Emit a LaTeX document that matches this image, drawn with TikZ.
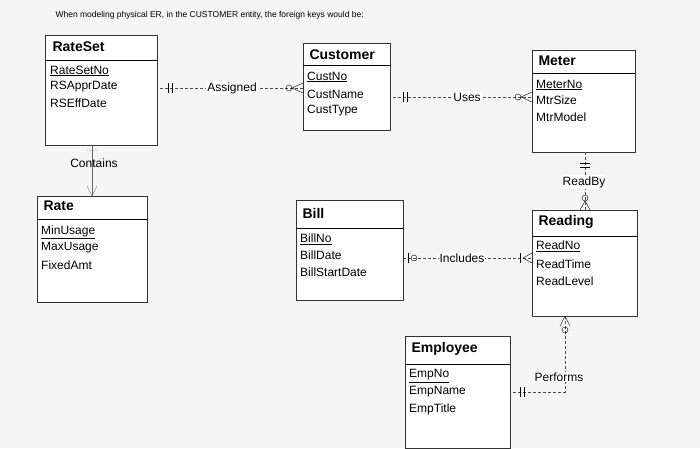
\documentclass[tikz,border=0pt]{standalone}
\usepackage{fontspec}
\setmainfont{Liberation Sans}
\begin{document}
\begin{tikzpicture}[x=1pt,y=-1pt,
 ent/.style={draw=black!80,line width=0.8pt,fill=white},
 hd/.style={anchor=west,font=\bfseries\fontsize{14}{14}\selectfont},
 attr/.style={anchor=west,font=\fontsize{12}{12}\selectfont,inner sep=1pt},
 lbl/.style={font=\fontsize{12}{12}\selectfont,fill=white,inner sep=1pt},
 rel/.style={densely dashed,black!70,line width=0.7pt}]
\useasboundingbox (0,0) rectangle (700,448);
\fill[black!4] (0,0) rectangle (700,448);
\node[anchor=west,font=\fontsize{8.5}{9}\selectfont] (title) at (52,15) {When modeling physical ER, in the CUSTOMER entity, the foreign keys would be:};
% RateSet
\draw[ent] (45,35) rectangle (157,145); \draw (45,60)--(157,60);
\node[hd] (rs) at (49,47) {RateSet};
\node[attr] (rs1) at (49,71) {\underline{RateSetNo}};
\node[attr] (rs2) at (49,87) {RSApprDate};
\node[attr] (rs3) at (49,103) {RSEffDate};
% Customer
\draw[ent] (303,43) rectangle (390,130); \draw (303,65)--(390,65);
\node[hd] (cu) at (306,55) {Customer};
\node[attr] (cu1) at (306,77) {\underline{CustNo}};
\node[attr] (cu2) at (306,94) {CustName};
\node[attr] (cu3) at (306,111) {CustType};
% Meter
\draw[ent] (532,50) rectangle (635,152); \draw (532,73)--(635,73);
\node[hd] (me) at (535,61) {Meter};
\node[attr] (me1) at (535,85) {\underline{MeterNo}};
\node[attr] (me2) at (535,100) {MtrSize};
\node[attr] (me3) at (535,117) {MtrModel};
% Rate
\draw[ent] (37,196) rectangle (147,302); \draw (37,219)--(147,219);
\node[hd] (ra) at (40,206) {Rate};
\node[attr] (ra1) at (40,232) {\underline{MinUsage}};
\node[attr] (ra2) at (40,248) {MaxUsage};
\node[attr] (ra3) at (40,265) {FixedAmt};
% Bill
\draw[ent] (296,200) rectangle (403,300); \draw (296,228)--(403,228);
\node[hd] (bi) at (299,213) {Bill};
\node[attr] (bi1) at (299,239) {\underline{BillNo}};
\node[attr] (bi2) at (299,255) {BillDate};
\node[attr] (bi3) at (299,272) {BillStartDate};
% Reading
\draw[ent] (532,210) rectangle (637,316); \draw (532,236)--(637,236);
\node[hd] (re) at (535,222) {Reading};
\node[attr] (re1) at (535,246) {\underline{ReadNo}};
\node[attr] (re2) at (535,264) {ReadTime};
\node[attr] (re3) at (535,281) {ReadLevel};
% Employee
\draw[ent] (405,336) rectangle (510,448); \draw (405,364)--(510,364);
\node[hd] (em) at (408,349) {Employee};
\node[attr] (em1) at (408,376) {\underline{EmpNo}};
\node[attr] (em2) at (408,392) {EmpName};
\node[attr] (em3) at (408,409) {EmpTitle};
% Assigned
\coordinate (a1) at (160,88); \coordinate (a2) at (303,88);
\draw[rel] (a1)--(a2);
\node[lbl] (asg) at (232,88) {Assigned};
\draw (168,83)--(168,93) (172,83)--(172,93);
\draw (289,88) circle (3);
\draw (292,88)--(303,83) (292,88)--(303,93);
% Uses
\coordinate (u1) at (393,97); \coordinate (u2) at (532,97);
\draw[rel] (u1)--(u2);
\node[lbl] (use) at (467,97) {Uses};
\draw (403,92)--(403,102) (407,92)--(407,102);
\draw (518,97) circle (3);
\draw (521,97)--(532,92) (521,97)--(532,102);
% Includes
\coordinate (i1) at (403,258); \coordinate (i2) at (532,258);
\draw[rel] (i1)--(i2);
\node[lbl] (inc) at (462,258) {Includes};
\draw (408,253)--(408,263); \draw (414,258) circle (3);
\draw (520,253)--(520,263);
\draw (523,258)--(532,253) (523,258)--(532,263);
% Contains
\coordinate (c1) at (92,145); \coordinate (c2) at (92,196);
\draw[black!60] (c1)--(c2);
\node[lbl,fill=none] (con) at (94,163) {Contains};
\draw[black!60] (87,150)--(97,150) (87,186)--(92,196)--(97,186);
% ReadBy
\coordinate (r1) at (585,152); \coordinate (r2) at (585,210);
\draw[rel] (r1)--(r2);
\node[lbl] (rb) at (584,182) {ReadBy};
\draw (580,163)--(590,163) (580,167)--(590,167);
\draw (585,198) circle (3);
\draw (585,201)--(580,210) (585,201)--(590,210);
% Performs
\coordinate (p1) at (565,316); \coordinate (p2) at (565,392);
\draw[rel] (p1)--(p2)--(510,392);
\node[lbl] (pf) at (559,377) {Performs};
\draw (565,316)--(560,326) (565,316)--(570,326);
\draw (565,330) circle (3);
\draw (520,387)--(520,397) (524,387)--(524,397);
\end{tikzpicture}
\end{document}
